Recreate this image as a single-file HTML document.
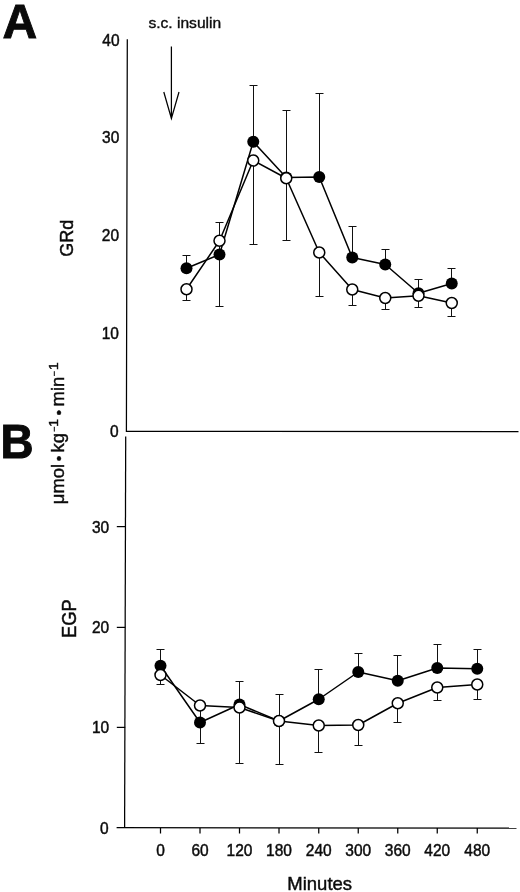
<!DOCTYPE html>
<html><head><meta charset="utf-8"><title>Figure</title>
<style>
html,body{margin:0;padding:0;background:#fff}
svg{display:block}
text{font-family:"Liberation Sans",Arial,sans-serif;fill:#0a0a0a}
.t{font-size:15.5px;stroke:#111;stroke-width:0.45px}
.big{font-size:48px;font-weight:bold;stroke:#0a0a0a;stroke-width:0.9px}
.ti{font-size:18.4px;stroke:#111;stroke-width:0.45px}
.su{font-size:14px}
.mi{font-size:9px}
.bu{font-size:16px}
.ax{stroke:#000;stroke-width:1.25;fill:none}
.eb{stroke:#111;stroke-width:1;fill:none}
.ln{stroke:#000;stroke-width:1.5;fill:none;stroke-linejoin:round}
.fc{fill:#000;stroke:none}
.oc{fill:#fff;stroke:#000;stroke-width:1.5}
</style></head><body>
<svg width="520" height="892" viewBox="0 0 520 892">
<rect width="520" height="892" fill="#fff"/>
<text class="big" transform="translate(2.6,38.05) scale(1,1.008)">A</text>
<text class="big" style="font-size:45.8px" transform="translate(0.5,457.75) scale(1,1.043)">B</text>
<text transform="translate(148.4,28.1) scale(1,0.92)" style="font-size:15.6px;stroke:#111;stroke-width:0.4px">s.c. insulin</text>
<path d="M171.4 46.5V118M163.8 92L171.4 118.5L179 92" class="ax"/>
<path d="M127.3 39.3L126.4 431.3L518.5 431.6" class="ax"/>
<path d="M125.7 436.5L124.6 827.8" class="ax"/>
<path d="M116.6 827.7L516.5 828.2" class="ax"/>
<text class="t" text-anchor="end" transform="translate(119.6,45.5) scale(1,1.01)">40</text><text class="t" text-anchor="end" transform="translate(119.3,143.3) scale(1,1.01)">30</text><text class="t" text-anchor="end" transform="translate(119.0,241.3) scale(1,1.01)">20</text><text class="t" text-anchor="end" transform="translate(118.9,338.9) scale(1,1.01)">10</text><text class="t" text-anchor="end" transform="translate(118.5,437.0) scale(1,1.01)">0</text>
<path d="M116.8 526.6H125.2" class="ax"/><path d="M116.8 627.4H125.2" class="ax"/><path d="M116.8 727.4H125.2" class="ax"/><text class="t" text-anchor="end" transform="translate(109.2,532.5) scale(1,1.01)">30</text><text class="t" text-anchor="end" transform="translate(109.2,633.3) scale(1,1.01)">20</text><text class="t" text-anchor="end" transform="translate(109.2,733.3) scale(1,1.01)">10</text><text class="t" text-anchor="end" transform="translate(108.7,833.7) scale(1,1.01)">0</text>
<path d="M160.5 828V833.5" class="ax"/><path d="M200 828V833.5" class="ax"/><path d="M239.5 828V833.5" class="ax"/><path d="M279 828V833.5" class="ax"/><path d="M318.75 828V833.5" class="ax"/><path d="M358.25 828V833.5" class="ax"/><path d="M397.75 828V833.5" class="ax"/><path d="M437.25 828V833.5" class="ax"/><path d="M477.25 828V833.5" class="ax"/>
<text class="t" text-anchor="middle" transform="translate(160.5,855.9) scale(1,1.01)">0</text><text class="t" text-anchor="middle" transform="translate(200,855.9) scale(1,1.01)">60</text><text class="t" text-anchor="middle" transform="translate(239.5,855.9) scale(1,1.01)">120</text><text class="t" text-anchor="middle" transform="translate(279,855.9) scale(1,1.01)">180</text><text class="t" text-anchor="middle" transform="translate(318.75,855.9) scale(1,1.01)">240</text><text class="t" text-anchor="middle" transform="translate(358.25,855.9) scale(1,1.01)">300</text><text class="t" text-anchor="middle" transform="translate(397.75,855.9) scale(1,1.01)">360</text><text class="t" text-anchor="middle" transform="translate(437.25,855.9) scale(1,1.01)">420</text><text class="t" text-anchor="middle" transform="translate(477.25,855.9) scale(1,1.01)">480</text>
<text class="ti" style="font-size:18px" transform="translate(72.8,256.8) rotate(-90) scale(1,1.05)">GRd</text>
<text class="ti" transform="translate(63.7,503.3) rotate(-90) scale(1,0.95)"><tspan x="-0.9" y="0">μmol</tspan><tspan class="bu" x="42.1" y="0">•</tspan><tspan x="50.8" y="0">kg</tspan><tspan class="mi" x="71.9" y="-7.2">−</tspan><tspan class="su" x="76.6" y="-6.15">1</tspan><tspan class="bu" x="87.9" y="0">•</tspan><tspan x="96.9" y="0">min</tspan><tspan class="mi" x="127.3" y="-7.2">−</tspan><tspan class="su" x="133.4" y="-6.15">1</tspan></text>
<text class="ti" transform="translate(75.9,638.1) rotate(-90) scale(1,1.09)">EGP</text>
<text class="ti" style="font-size:18.5px" transform="translate(287.3,889.6) scale(1,0.96)">Minutes</text>
<g>
<path d="M186.5 268.25V255.5M182.5 255.5H190.5M186.5 289.25V300.5M182.5 300.5H190.5" class="eb"/>
<path d="M219.5 254.5V222.5M215.5 222.5H223.5M219.5 240.75V306.5M215.5 306.5H223.5" class="eb"/>
<path d="M253.5 141.75V85.5M249.5 85.5H257.5M253.5 160.5V244.5M249.5 244.5H257.5" class="eb"/>
<path d="M286.5 177.5V110.5M282.5 110.5H290.5M286.5 178.25V240.5M282.5 240.5H290.5" class="eb"/>
<path d="M319.5 177V93.5M315.5 93.5H323.5M319.5 252.5V296.5M315.5 296.5H323.5" class="eb"/>
<path d="M352.5 257.5V226.5M348.5 226.5H356.5M352.5 289.5V305.5M348.5 305.5H356.5" class="eb"/>
<path d="M385.5 264.5V249.5M381.5 249.5H389.5M385.5 298V309.5M381.5 309.5H389.5" class="eb"/>
<path d="M418.5 293.25V279.5M414.5 279.5H422.5M418.5 295.75V307.5M414.5 307.5H422.5" class="eb"/>
<path d="M451.5 283.5V268.5M447.5 268.5H455.5M451.5 303V316.5M447.5 316.5H455.5" class="eb"/>
<polyline class="ln" points="186.5,268.25 219.5,254.5 253.25,141.75 286.25,177.5 319.25,177 352.25,257.5 385.25,264.5 418.5,293.25 451.75,283.5"/>
<polyline class="ln" points="186.5,289.25 219.5,240.75 253.25,160.5 286.25,178.25 319.25,252.5 352.25,289.5 385.25,298 418.5,295.75 451.75,303"/>
<circle cx="186.5" cy="268.25" r="6" class="fc"/>
<circle cx="219.5" cy="254.5" r="6" class="fc"/>
<circle cx="253.25" cy="141.75" r="6" class="fc"/>
<circle cx="286.25" cy="177.5" r="6" class="fc"/>
<circle cx="319.25" cy="177" r="6" class="fc"/>
<circle cx="352.25" cy="257.5" r="6" class="fc"/>
<circle cx="385.25" cy="264.5" r="6" class="fc"/>
<circle cx="418.5" cy="293.25" r="6" class="fc"/>
<circle cx="451.75" cy="283.5" r="6" class="fc"/>
<circle cx="186.5" cy="289.25" r="5.5" class="oc"/>
<circle cx="219.5" cy="240.75" r="5.5" class="oc"/>
<circle cx="253.25" cy="160.5" r="5.5" class="oc"/>
<circle cx="286.25" cy="178.25" r="5.5" class="oc"/>
<circle cx="319.25" cy="252.5" r="5.5" class="oc"/>
<circle cx="352.25" cy="289.5" r="5.5" class="oc"/>
<circle cx="385.25" cy="298" r="5.5" class="oc"/>
<circle cx="418.5" cy="295.75" r="5.5" class="oc"/>
<circle cx="451.75" cy="303" r="5.5" class="oc"/>
</g>
<g>
<path d="M160.5 665.75V649.5M156.5 649.5H164.5M160.5 675V684.5M156.5 684.5H164.5" class="eb"/>
<path d="M200.5 722.5V705.5M196.5 705.5H204.5M200.5 705.5V743.5M196.5 743.5H204.5" class="eb"/>
<path d="M239.5 704.5V681.5M235.5 681.5H243.5M239.5 707.5V763.5M235.5 763.5H243.5" class="eb"/>
<path d="M279.5 721V694.5M275.5 694.5H283.5M279.5 721V764.5M275.5 764.5H283.5" class="eb"/>
<path d="M318.5 699.25V669.5M314.5 669.5H322.5M318.5 725.5V752.5M314.5 752.5H322.5" class="eb"/>
<path d="M358.5 672V653.5M354.5 653.5H362.5M358.5 725V745.5M354.5 745.5H362.5" class="eb"/>
<path d="M397.5 680.75V655.5M393.5 655.5H401.5M397.5 703.25V722.5M393.5 722.5H401.5" class="eb"/>
<path d="M437.5 668V644.5M433.5 644.5H441.5M437.5 687.5V700.5M433.5 700.5H441.5" class="eb"/>
<path d="M477.5 668.75V649.5M473.5 649.5H481.5M477.5 684.5V699.5M473.5 699.5H481.5" class="eb"/>
<polyline class="ln" points="160.5,665.75 200,722.5 239.5,704.5 279,721 318.75,699.25 358.25,672 397.75,680.75 437.25,668 477.25,668.75"/>
<polyline class="ln" points="160.5,675 200,705.5 239.5,707.5 279,721 318.75,725.5 358.25,725 397.75,703.25 437.25,687.5 477.25,684.5"/>
<circle cx="160.5" cy="665.75" r="6" class="fc"/>
<circle cx="200" cy="722.5" r="6" class="fc"/>
<circle cx="239.5" cy="704.5" r="6" class="fc"/>
<circle cx="279" cy="721" r="6" class="fc"/>
<circle cx="318.75" cy="699.25" r="6" class="fc"/>
<circle cx="358.25" cy="672" r="6" class="fc"/>
<circle cx="397.75" cy="680.75" r="6" class="fc"/>
<circle cx="437.25" cy="668" r="6" class="fc"/>
<circle cx="477.25" cy="668.75" r="6" class="fc"/>
<circle cx="160.5" cy="675" r="5.5" class="oc"/>
<circle cx="200" cy="705.5" r="5.5" class="oc"/>
<circle cx="239.5" cy="707.5" r="5.5" class="oc"/>
<circle cx="279" cy="721" r="5.5" class="oc"/>
<circle cx="318.75" cy="725.5" r="5.5" class="oc"/>
<circle cx="358.25" cy="725" r="5.5" class="oc"/>
<circle cx="397.75" cy="703.25" r="5.5" class="oc"/>
<circle cx="437.25" cy="687.5" r="5.5" class="oc"/>
<circle cx="477.25" cy="684.5" r="5.5" class="oc"/>
</g>
</svg>
</body></html>
